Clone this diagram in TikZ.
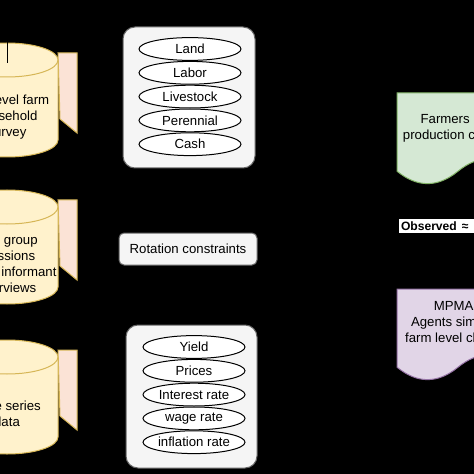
\documentclass[tikz,border=0pt]{standalone}
\usepackage{fontspec}
\setmainfont{Liberation Sans}
\usetikzlibrary{positioning,shapes.geometric}

\definecolor{storefill}{HTML}{FFF2CC}
\definecolor{storeline}{HTML}{D6B656}
\definecolor{tabfill}{HTML}{FBE3D6}
\definecolor{groupfill}{HTML}{F5F5F5}
\definecolor{groupline}{HTML}{666666}
\definecolor{obsfill}{HTML}{D5E8D4}
\definecolor{obsline}{HTML}{82B366}
\definecolor{simfill}{HTML}{E1D5E7}
\definecolor{simline}{HTML}{9673A6}

\begin{document}
\begin{tikzpicture}[x=1bp,y=-1bp,node distance=0pt,line width=1bp,
font=\fontsize{13.2bp}{16.3bp}\selectfont]
\tikzstyle{item}=[ellipse,draw,fill=white,minimum width=102bp,minimum height=22.8bp,inner sep=0pt]
\tikzstyle{group}=[draw=groupline,fill=groupfill,rounded corners=12bp]
\tikzstyle{store}=[draw=storeline,fill=storefill]
\tikzstyle{tab}=[draw=storeline,fill=tabfill]

\useasboundingbox (0,0) rectangle (474,474);
\fill[black] (0,0) rectangle (474,474);
\clip (0,0) rectangle (474,474);

% data sources
\foreach \cy/\tx/\txt [count=\i] in {60/7/{Plot-level farm\\household\\survey},
207/1/{Focus group\\discussions\\\hspace*{6bp}and key informant\\\hspace*{12bp}interviews},
357/7/{Time series\\data}}{
\draw[tab] (58,\cy-7) -- (77,\cy-7) -- (77,\cy+73) -- (60,\cy+59) -- cycle;
\draw[store] (-44,\cy) -- (-44,\cy+80) arc[start angle=180,end angle=0,x radius=51,y radius=17]
 -- (58,\cy) arc[start angle=0,end angle=-180,x radius=51,y radius=17] -- cycle;
\draw[storeline] (-44,\cy) arc[start angle=180,end angle=0,x radius=51,y radius=17];
\node[align=center] (S\i) at (\tx,\cy+57) {\txt};
}
\coordinate (in1) at (7,63);
\coordinate (top1) at (7,0);
\draw (in1) -- (top1);

% resources
\node[group,minimum width=132bp,minimum height=141bp] (G1) at (189,97.5) {};
\node[item]               (L1) at (190,49) {Land};
\node[item,below=of L1]   (L2) {Labor};
\node[item,below=of L2]   (L3) {Livestock};
\node[item,below=of L3]   (L4) {Perennial};
\node[item,below=of L4]   (L5) {Cash};

\node[group,rounded corners=5bp,minimum width=138bp,minimum height=32bp] (R) at (188,249) {Rotation constraints};

% prices
\node[group,minimum width=131bp,minimum height=143bp] (G2) at (191.5,396.5) {};
\node[item]               (P1) at (194,347) {Yield};
\node[item,below=of P1]   (P2) {Prices};
\node[item,below=of P2]   (P3) {Interest rate};
\node[item,below=of P3]   (P4) {wage rate};
\node[item,below=of P4]   (P5) {inflation rate};

% observed and simulated
\foreach \dy/\dfill/\dline in {93/obsfill/obsline,289/simfill/simline}{
\begin{scope}[shift={(397,\dy)}]
\draw[draw=\dline,fill=\dfill] (0,0) -- (122,0) -- (122,78.2)
 .. controls (101.67,61.67) and (81.33,61.67) .. (61,78.2)
 .. controls (40.67,94.76) and (20.33,94.76) .. (0,78.2) -- cycle;
\end{scope}
}
\node[align=center] (F) at (458,128) {Farmers real\\production choices};
\node[align=center] (M) at (458,322) {MPMAS\\Agents simulate\\farm level choices};
\node[anchor=west,fill=white,inner sep=2.5bp,font=\bfseries\fontsize{12.1bp}{14bp}\selectfont] (O) at (398,226) {Observed\hspace{5bp}≈\hspace{8bp}Simulated};
\end{tikzpicture}
\end{document}
